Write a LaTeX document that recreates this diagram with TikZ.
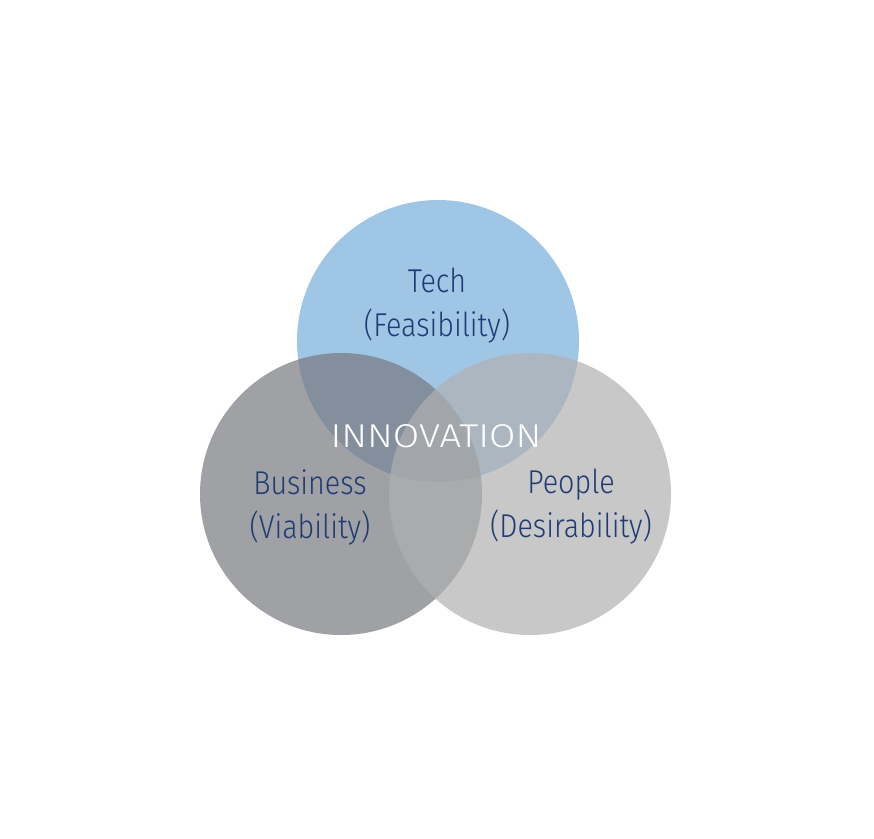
\documentclass[tikz,border=0pt]{standalone}
\usepackage{fontspec}
\setmainfont{Fira Sans}[UprightFont=* Light]
\newfontfamily\labelfont{Fira Sans}[UprightFont=* Light, FakeStretch=0.87]
\newfontfamily\centrefont{Fira Sans}[UprightFont=* Light, FakeStretch=1.16]
\usepackage{tikz}
\usetikzlibrary{positioning}
\definecolor{techblue}{RGB}{160,198,230}
\definecolor{bizgray}{RGB}{119,121,126}
\definecolor{peoplegray}{RGB}{176,176,176}
\definecolor{labelnavy}{RGB}{30,60,115}
\tikzstyle{set} = [circle, minimum size=282pt, inner sep=0pt]
\tikzstyle{label} = [text=labelnavy, align=center, font=\labelfont\fontsize{33}{44}\selectfont]
\tikzstyle{centre} = [text=white, font=\centrefont\fontsize{33}{44}\selectfont]

\begin{document}
\begin{tikzpicture}[x=1pt, y=-1pt]
                 \useasboundingbox (0,0) rectangle (874,838);
                 \node (tech) [set, fill=techblue] at (438,341) {};
                 \node (business) [set, fill=bizgray, fill opacity=0.7] at (341,494) {};
                 \node (people) [set, fill=peoplegray, fill opacity=0.7] at (530,494) {};
                 \node (techlbl) [label] at (437,306) {Tech\\(Feasibility)};
                 \node (bizlbl) [label] at (310,507) {Business\\(Viability)};
                 \node (peoplelbl) [label] at (571,507) {People\\(Desirability)};
                 \node (innovation) [centre] at (436,436) {INNOVATION};
             \end{tikzpicture}
\end{document}
